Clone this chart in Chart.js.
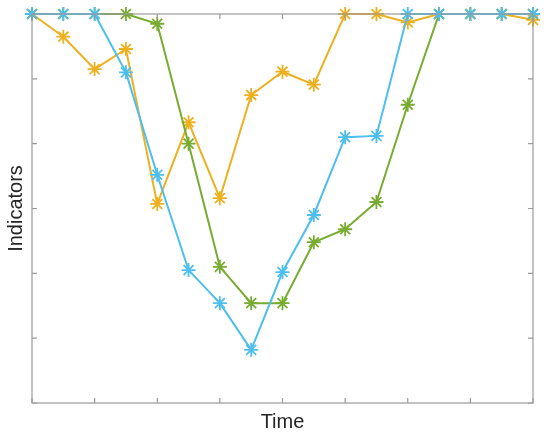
<!DOCTYPE html>
<html>
<head>
<meta charset="utf-8">
<script src="https://cdn.jsdelivr.net/npm/chart.js@4"></script>
<style>
html,body{margin:0;padding:0;background:#fff;}
#wrap{width:550px;height:437px;}
</style>
</head>
<body>
<div id="wrap"><canvas id="c" width="550" height="437"></canvas></div>
<script>
const timeIdx = [0,1,2,3,4,5,6,7,8,9,10,11,12,13,14,15,16];
const blueVals   = [6,6,6,5.10,3.52,2.05,1.54,0.82,2.02,2.90,4.10,4.12,6,6,6,6,6];
const greenVals  = [6,6,6,6,5.85,4.00,2.10,1.54,1.54,2.48,2.68,3.10,4.60,6,6,6,6];
const orangeVals = [6,5.65,5.15,5.46,3.07,4.33,3.16,4.75,5.11,4.91,6,6,5.87,6,6,6,5.91];
const xTicks = [0,2,4,6,8,10,12,14,16];
const yTicks = [0,1,2,3,4,5,6];

const toPts = vals => vals.map((v,i)=>({x:timeIdx[i], y:v}));

function ds(label, vals, color){
  return {
    label, data: toPts(vals), borderColor: color, backgroundColor: color,
    borderWidth: 2, pointStyle: 'star', pointRadius: 7, pointHoverRadius: 7,
    pointBorderWidth: 1.8, pointBorderColor: color, tension: 0, clip: false
  };
}

const boxPlugin = {
  id: 'box',
  afterDatasetsDraw(chart){
    const {ctx, chartArea:a, scales:{x,y}} = chart;
    ctx.save();
    ctx.strokeStyle = '#9a9a9a';
    ctx.lineWidth = 1.2;
    ctx.strokeRect(a.left, a.top, a.right-a.left, a.bottom-a.top);
    const L = 5;
    ctx.beginPath();
    xTicks.forEach(t=>{
      const px = x.getPixelForValue(t);
      ctx.moveTo(px, a.bottom); ctx.lineTo(px, a.bottom-L);
      ctx.moveTo(px, a.top); ctx.lineTo(px, a.top+L);
    });
    yTicks.forEach(t=>{
      const py = y.getPixelForValue(t);
      ctx.moveTo(a.left, py); ctx.lineTo(a.left+L, py);
      ctx.moveTo(a.right, py); ctx.lineTo(a.right-L, py);
    });
    ctx.stroke();
    ctx.restore();
  }
};

new Chart(document.getElementById('c'), {
  type: 'line',
  data: { datasets: [
    ds('Series 3', blueVals, '#4DBEEE'),
    ds('Series 2', greenVals, '#77AC30'),
    ds('Series 1', orangeVals, '#EDB120')
  ]},
  options: {
    responsive: false, animation: false, devicePixelRatio: 1,
    layout: { padding: { left: 0, top: 14, right: 17, bottom: 2 } },
    plugins: { legend: { display: false }, tooltip: { enabled: false } },
    scales: {
      x: {
        type: 'linear', min: 0, max: 16,
        ticks: { display: false, stepSize: 2 },
        grid: { display: false, drawTicks: false }, border: { display: false },
        title: { display: true, text: 'Time', color: '#262626',
          font: { family: 'Liberation Sans, Arial, sans-serif', size: 20 },
          padding: { top: 7, bottom: 1 } }
      },
      y: {
        type: 'linear', min: 0, max: 6,
        ticks: { display: false, stepSize: 1 },
        grid: { display: false, drawTicks: false }, border: { display: false },
        title: { display: true, text: 'Indicators', color: '#262626',
          font: { family: 'Liberation Sans, Arial, sans-serif', size: 20 },
          padding: { top: 4, bottom: 4 } }
      }
    }
  },
  plugins: [boxPlugin]
});
</script>
</body>
</html>
